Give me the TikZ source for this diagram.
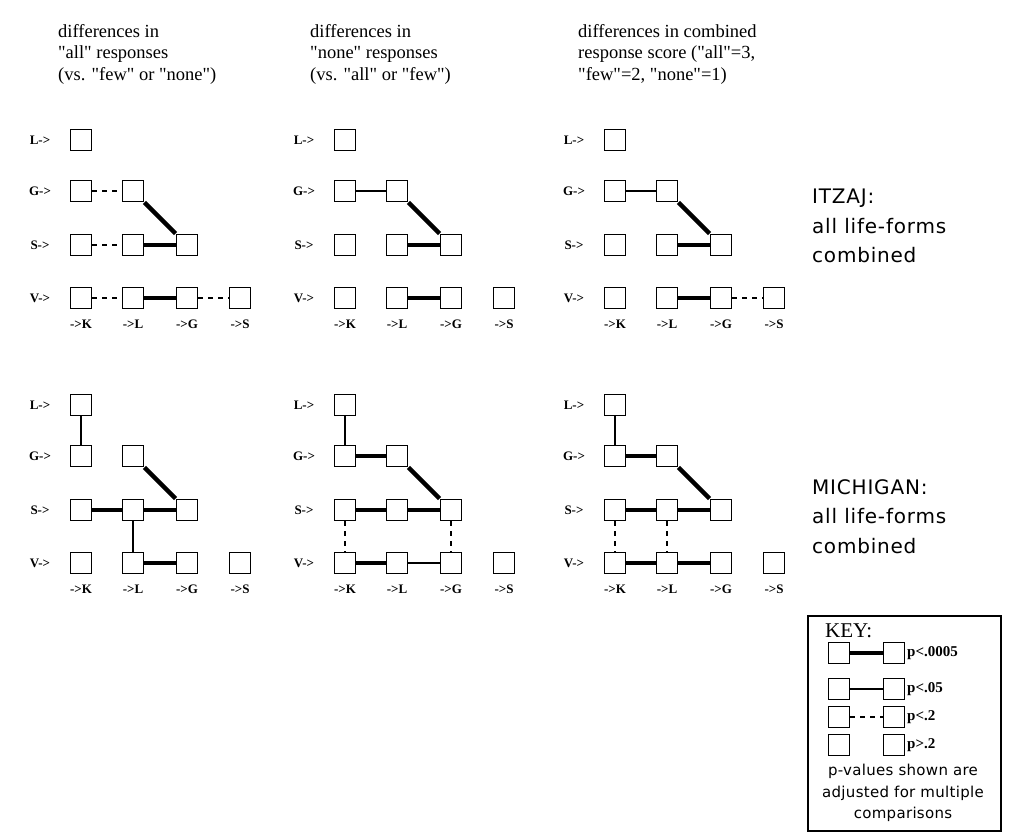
\documentclass[tikz,border=0pt]{standalone}
\usepackage{fontspec}
\setmainfont{Liberation Serif}
\newfontfamily\hf{Liberation Serif}
\newfontfamily\gen[LetterSpace=4]{DejaVu Sans}
\newfontfamily\genk[LetterSpace=2]{DejaVu Sans}
\newcommand{\qq}{\char"22\relax}
\begin{document}
\begin{tikzpicture}[x=1pt,y=-1pt,
  bx/.style={draw,line width=1.8pt,minimum size=21pt,inner sep=0pt},
  lab/.style={font=\fontsize{13}{14}\selectfont\bfseries,inner sep=0pt},
  thk/.style={line width=4.5pt},
  thn/.style={line width=1.2pt},
  dsh/.style={line width=1.2pt,dash pattern=on 5pt off 5pt},
  hdr/.style={font=\hf\fontsize{18.5}{21.5}\selectfont,align=left,anchor=north west,inner sep=0pt},
  side/.style={font=\gen\fontsize{20}{29.5}\selectfont,align=left,anchor=north west,inner sep=0pt}]
\useasboundingbox (0,0) rectangle (1013,831);
\newcommand{\mkpanel}[3]{%
  \begin{scope}[shift={(#2,#3)}]
  \node[lab] (#1-rl) at (40,140) {L->};
  \node[lab] (#1-rg) at (40,191) {G->};
  \node[lab] (#1-rs) at (40,245) {S->};
  \node[lab] (#1-rv) at (40,298) {V->};
  \node[bx] (#1-LK) at (81,140) {};
  \node[bx] (#1-GK) at (81,191) {};
  \node[bx] (#1-GL) at (133,191) {};
  \node[bx] (#1-SK) at (81,245) {};
  \node[bx] (#1-SL) at (133,245) {};
  \node[bx] (#1-SG) at (187,245) {};
  \node[bx] (#1-VK) at (81,298) {};
  \node[bx] (#1-VL) at (133,298) {};
  \node[bx] (#1-VG) at (187,298) {};
  \node[bx] (#1-VS) at (240,298) {};
  \node[lab] (#1-ck) at (81,324) {->K};
  \node[lab] (#1-cl) at (133,324) {->L};
  \node[lab] (#1-cg) at (187,324) {->G};
  \node[lab] (#1-cs) at (240,324) {->S};
  \end{scope}}
\mkpanel{a}{0}{0}
\mkpanel{b}{264}{0}
\mkpanel{c}{534}{0}
\mkpanel{d}{0}{265}
\mkpanel{e}{264}{265}
\mkpanel{f}{534}{265}
% headers
\node[hdr] (h1) at (58,24) {differences in\\"all" responses\\(vs. "few" or "none")};
\node[hdr] (h2) at (310,24) {differences in\\"none" responses\\(vs. "all" or "few")};
\node[hdr] (h3) at (578,24) {differences in combined\\response score ("all"=3,\\"few"=2, "none"=1)};
\node[side] (s1) at (812,189) {ITZAJ:\\all life-forms\\combined};
\node[side] (s2) at (812,479) {MICHIGAN:\\all life-forms\\combined};
% top 1
\draw[dsh] (a-GK)--(a-GL); \draw[thk] (a-GL)--(a-SG);
\draw[dsh] (a-SK)--(a-SL); \draw[thk] (a-SL)--(a-SG);
\draw[dsh] (a-VK)--(a-VL); \draw[thk] (a-VL)--(a-VG); \draw[dsh] (a-VG)--(a-VS);
% top 2
\draw[thn] (b-GK)--(b-GL); \draw[thk] (b-GL)--(b-SG);
\draw[thk] (b-SL)--(b-SG); \draw[thk] (b-VL)--(b-VG);
% top 3
\draw[thn] (c-GK)--(c-GL); \draw[thk] (c-GL)--(c-SG);
\draw[thk] (c-SL)--(c-SG); \draw[thk] (c-VL)--(c-VG); \draw[dsh] (c-VG)--(c-VS);
% bottom 1
\draw[thn] (d-LK)--(d-GK); \draw[thk] (d-GL)--(d-SG);
\draw[thk] (d-SK)--(d-SL); \draw[thk] (d-SL)--(d-SG);
\draw[thn] (d-SL)--(d-VL); \draw[thk] (d-VL)--(d-VG);
% bottom 2
\draw[thn] (e-LK)--(e-GK); \draw[thk] (e-GK)--(e-GL); \draw[thk] (e-GL)--(e-SG);
\draw[thk] (e-SK)--(e-SL); \draw[thk] (e-SL)--(e-SG);
\draw[dsh] (e-SK)--(e-VK); \draw[dsh] (e-SG)--(e-VG);
\draw[thk] (e-VK)--(e-VL); \draw[thn] (e-VL)--(e-VG);
% bottom 3
\draw[thn] (f-LK)--(f-GK); \draw[thk] (f-GK)--(f-GL); \draw[thk] (f-GL)--(f-SG);
\draw[thk] (f-SK)--(f-SL); \draw[thk] (f-SL)--(f-SG);
\draw[dsh] (f-SK)--(f-VK); \draw[dsh] (f-SL)--(f-VL);
\draw[thk] (f-VK)--(f-VL); \draw[thk] (f-VL)--(f-VG);
% key
\node[draw,line width=1.5pt,minimum width=193pt,minimum height=215pt,anchor=north west,inner sep=0pt] (key) at (807,615) {};
\node[font=\fontsize{21}{22}\selectfont,anchor=west,inner sep=0pt] (kt) at (825,631) {KEY:};
\foreach \i/\y/\t in {1/653/{p<.0005},2/689/{p<.05},3/717/{p<.2},4/745/{p>.2}}{
  \node[bx] (k\i a) at (839,\y) {};
  \node[bx] (k\i b) at (894,\y) {};
  \node[anchor=west,inner sep=0pt,font=\fontsize{15}{16}\selectfont\bfseries] (k\i t) at (907,\y) {\t};
}
\draw[thk] (k1a)--(k1b);
\draw[thn] (k2a)--(k2b);
\draw[dsh] (k3a)--(k3b);
\node[font=\genk\fontsize{15}{21.5}\selectfont,align=center,anchor=north,inner sep=0pt] (kn) at (903,764) {p-values shown are\\adjusted for multiple\\comparisons};
\end{tikzpicture}
\end{document}
